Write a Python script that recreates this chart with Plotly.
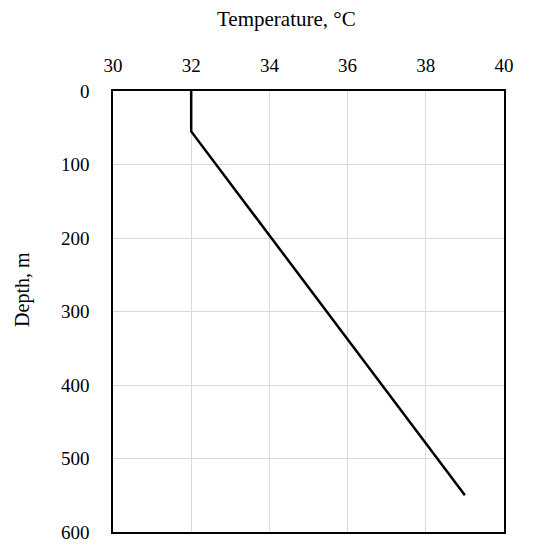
import plotly.graph_objects as go

# temperature profile with depth
temperature = [32, 32, 39]
depth = [0, 55, 550]

x_ticks = [30, 32, 34, 36, 38, 40]
y_ticks = [0, 100, 200, 300, 400, 500, 600]

fig = go.Figure()
fig.add_trace(go.Scatter(x=temperature, y=depth, mode="lines",
                         line=dict(color="black", width=2.5),
                         showlegend=False))

# page body has an 8px margin, so the figure is a bit smaller than the window
fig.update_layout(
    width=539, height=542,
    margin=dict(l=105, r=43, t=83, b=18),
    paper_bgcolor="white", plot_bgcolor="white",
    font=dict(family="Liberation Serif", size=19, color="black"),
)
fig.update_xaxes(
    side="top", range=[30, 40], tickvals=x_ticks,
    tickfont=dict(size=19),
    showgrid=True, gridcolor="#d9d9d9", gridwidth=1,
    showline=True, linecolor="black", linewidth=1.5, mirror=True,
    zeroline=False, ticks="", ticklabelstandoff=10, automargin=False,
)
fig.update_yaxes(
    range=[600, 0], tickvals=y_ticks,
    tickfont=dict(size=19),
    showgrid=True, gridcolor="#d9d9d9", gridwidth=1,
    showline=True, linecolor="black", linewidth=1.5, mirror=True,
    zeroline=False, ticks="", ticklabelstandoff=18, automargin=False,
)

# axis titles sit off-centre in the original, so place them by hand
fig.add_annotation(text="Temperature, °C", xref="paper", yref="paper",
                   x=0.445, y=1.163, showarrow=False, borderpad=0,
                   xanchor="center", yanchor="middle", font=dict(size=21))
fig.add_annotation(text="Depth, m", xref="paper", yref="paper",
                   x=-0.233, y=0.551, showarrow=False, textangle=-90,
                   xanchor="center", yanchor="middle", font=dict(size=20))

fig.write_html("out.html")
